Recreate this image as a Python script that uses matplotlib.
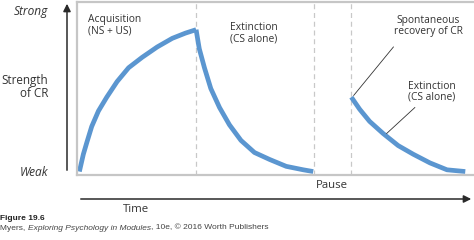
import matplotlib
matplotlib.use('Agg')
from matplotlib import pyplot as plt
from matplotlib.patches import FancyArrowPatch

# values (time in arbitrary units 0-10, strength 0-1)
acq_t = [0.06, 0.16, 0.25, 0.37, 0.54, 0.75, 1.01, 1.30, 1.64, 2.02, 2.40, 2.73, 3.0]
acq_s = [0.02, 0.12, 0.19, 0.28, 0.37, 0.45, 0.54, 0.62, 0.68, 0.74, 0.79, 0.82, 0.84]

ext_t = [3.0, 3.08, 3.21, 3.37, 3.59, 3.84, 4.13, 4.47, 4.85, 5.27, 5.70, 5.95]
ext_s = [0.84, 0.73, 0.62, 0.50, 0.39, 0.29, 0.20, 0.13, 0.09, 0.05, 0.03, 0.02]

rec_t = [6.91, 7.12, 7.37, 7.71, 8.09, 8.47, 8.89, 9.32, 9.78]
rec_s = [0.45, 0.38, 0.31, 0.24, 0.17, 0.12, 0.07, 0.03, 0.02]

phase_marks = [3.0, 5.97, 6.9]

W, H = 474, 240
def fx(px):
    return px / W
def fy(py):
    return 1 - py / H

plt.rcParams['font.family'] = ['Open Sans', 'DejaVu Sans']

fig = plt.figure(figsize=(W / 100, H / 100), dpi=100)
ax = fig.add_axes([fx(77), fy(175), fx(474) - fx(77), fy(2) - fy(175)])
ax.set_xlim(0, 10)
ax.set_ylim(0, 1)
ax.set_xticks([])
ax.set_yticks([])
for side in ['left', 'top', 'bottom']:
    ax.spines[side].set_color('#c6c6c6')
    ax.spines[side].set_linewidth(1.6)
ax.spines['right'].set_visible(False)

for x in phase_marks:
    ax.axvline(x, color='#c8c8c8', lw=0.9, ls=(0, (4, 3)))

blue = '#5b96d0'
for t, s in [(acq_t, acq_s), (ext_t, ext_s), (rec_t, rec_s)]:
    ax.plot(t, s, color=blue, lw=3.4, solid_joinstyle='round', solid_capstyle='butt')

txt = '#333333'
fs = 7.4
ax.text(0.27, 0.93, 'Acquisition\n(NS + US)', color=txt, fontsize=fs, va='top', ha='left', linespacing=1.0)
ax.text(4.45, 0.82, 'Extinction\n(CS alone)', color=txt, fontsize=fs, va='center', ha='center', linespacing=1.0)
ax.text(8.85, 0.86, 'Spontaneous\nrecovery of CR', color=txt, fontsize=fs, va='center', ha='center', linespacing=1.0)
ax.text(8.93, 0.48, 'Extinction\n(CS alone)', color=txt, fontsize=fs, va='center', ha='center', linespacing=1.0)
ax.plot([7.97, 6.97], [0.74, 0.46], color='#333333', lw=0.6)
ax.plot([8.51, 7.80], [0.39, 0.24], color='#333333', lw=0.6)

# axis arrows drawn in figure coords
fig.add_artist(FancyArrowPatch((fx(67), fy(173)), (fx(67), fy(1)), transform=fig.transFigure,
               arrowstyle='-|>', mutation_scale=11, color='#2a2a2a', lw=1.1))
fig.add_artist(FancyArrowPatch((fx(78), fy(199)), (fx(474), fy(199)), transform=fig.transFigure,
               arrowstyle='-|>', mutation_scale=11, color='#2a2a2a', lw=1.1))

fig.text(fx(48), fy(11), 'Strong', color=txt, fontsize=8.6, style='italic', ha='right', va='center')
fig.text(fx(48), fy(87), 'Strength\nof CR', color=txt, fontsize=8.4, ha='right', va='center', linespacing=1.05, multialignment='right')
fig.text(fx(48), fy(172), 'Weak', color=txt, fontsize=8.6, style='italic', ha='right', va='center')
fig.text(fx(136), fy(209), 'Time', color=txt, fontsize=8.2, ha='center', va='center')
fig.text(fx(332), fy(185), 'Pause', color=txt, fontsize=8.2, ha='center', va='center')

# caption, pieces laid out one after another
cap_fs = 6.0
fig.text(fx(0), fy(219), 'Figure 19.6', color='#222222', fontsize=cap_fs, weight='bold', family='Liberation Sans', ha='left', va='center')
renderer = fig.canvas.get_renderer()
xpos = 0
for piece, sty in [('Myers, ', 'normal'), ('Exploring Psychology in Modules', 'italic'),
                   (', 10e, \u00a9 2016 Worth Publishers', 'normal')]:
    t = fig.text(fx(xpos), fy(228), piece, color='#444444', fontsize=cap_fs, style=sty,
                 family='Liberation Sans', ha='left', va='center')
    xpos = t.get_window_extent(renderer).x1

fig.savefig('out.png', dpi=100)
